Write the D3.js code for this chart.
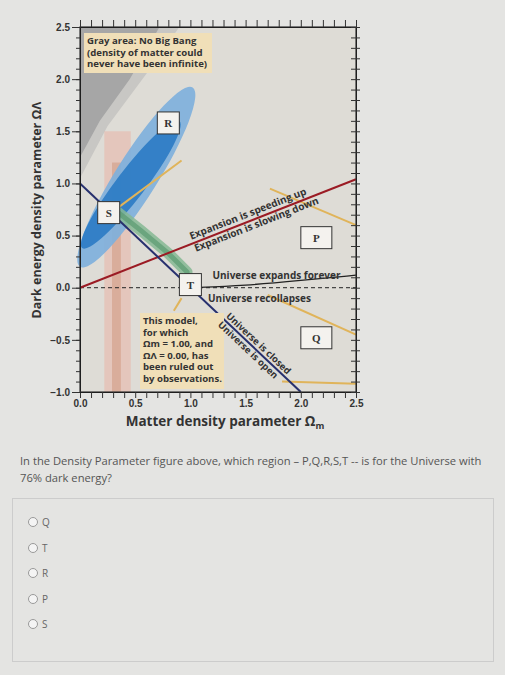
<!DOCTYPE html>
<html><head><meta charset="UTF-8">
<script src="https://d3js.org/d3.v7.min.js"></script>
<style>
body{margin:0;background:#e4e4e2;font-family:"Open Sans",sans-serif;width:505px;height:675px;overflow:hidden}
#q{position:absolute;left:20px;top:452px;width:480px;font-size:11.2px;color:#555;line-height:17px}
#box{position:absolute;left:12px;top:498px;width:480px;height:162px;border:1px solid #ccc}
.opt{position:absolute;left:28px;font-size:10px;color:#666}
.opt span{display:inline-block;width:8px;height:8px;border:1px solid #999;border-radius:50%;margin-right:4px;vertical-align:-1px;background:#f4f4f4}
</style></head><body>
<svg id="c" width="505" height="450" style="position:absolute;left:0;top:0"></svg>
<div id="q">In the Density Parameter figure above, which region – P,Q,R,S,T -- is for the Universe with 76% dark energy?</div>
<div id="box"></div>
<script>
const xTicks=[0,0.5,1,1.5,2,2.5];
const yTicks=[-1,-0.5,0,0.5,1,1.5,2,2.5];
const regions=[{k:"R",x:0.8,y:1.58},{k:"S",x:0.26,y:0.72},{k:"T",x:1.0,y:0.03},{k:"P",x:2.1,y:0.48},{k:"Q",x:2.1,y:-0.48}];
const options=["Q","T","R","P","S"];
const grayLight=[[0,2.5],[0.9,2.5],[0.6,2.05],[0.25,1.55],[0,1.05]];
const grayArea=[[0,2.5],[0.72,2.5],[0.45,2.0],[0.18,1.6],[0,1.25]];
const blueOuter={a:[0.0,0.2],b:[1.02,1.92],w:0.19};
const blueInner={a:[0.02,0.38],b:[0.9,1.6],w:0.13};
const greenBand=[[0.3,0.76],[0.55,0.55],[0.8,0.33],[0.97,0.15]];
const redLine=[[0,0],[2.5,1.04]];
const blueLine=[[0,1],[2,-1]];
const foreverCurve=[[1.0,0.0],[1.5,0.02],[2.0,0.07],[2.5,0.12]];
const pointers=[[[0.36,0.78],[0.92,1.22]],[[1.72,0.95],[2.5,0.6]],[[1.7,-0.07],[2.5,-0.45]],[[1.83,-0.9],[2.5,-0.92]],[[0.92,-0.1],[0.85,-0.22]]];

const svg=d3.select("#c");
const x=d3.scaleLinear().domain([0,2.5]).range([80,356]);
const y=d3.scaleLinear().domain([-1,2.5]).range([392,27]);
const line=d3.line().x(d=>x(d[0])).y(d=>y(d[1]));
const curve=d3.line().x(d=>x(d[0])).y(d=>y(d[1])).curve(d3.curveBasis);

svg.append("rect").attr("x",80).attr("y",27).attr("width",276).attr("height",365).attr("fill","#dedcd6");
svg.append("path").attr("d",line(grayLight)+"Z").attr("fill","#c8c7c4");
svg.append("path").attr("d",line(grayArea)+"Z").attr("fill","#a6a6a6");
svg.append("rect").attr("x",x(0.22)).attr("y",y(1.5)).attr("width",x(0.46)-x(0.22)).attr("height",y(-1)-y(1.5)).attr("fill","#eda596").attr("opacity",0.4);
svg.append("rect").attr("x",x(0.29)).attr("y",y(1.2)).attr("width",x(0.37)-x(0.29)).attr("height",y(-1)-y(1.2)).attr("fill","#c9886a").attr("opacity",0.4);
function ell(e,fill){
  const ax=x(e.a[0]),ay=y(e.a[1]),bx=x(e.b[0]),by=y(e.b[1]);
  const rx=Math.hypot(bx-ax,by-ay)/2,ang=Math.atan2(by-ay,bx-ax)*180/Math.PI;
  svg.append("ellipse").attr("cx",(ax+bx)/2).attr("cy",(ay+by)/2).attr("rx",rx).attr("ry",x(e.w)-x(0))
    .attr("transform",`rotate(${ang},${(ax+bx)/2},${(ay+by)/2})`).attr("fill",fill).attr("opacity",0.92);
}
ell(blueOuter,"#7fb0dc");ell(blueInner,"#2c7cc4");
svg.append("path").attr("d",line(greenBand)).attr("stroke","#86b894").attr("stroke-width",11).attr("stroke-linecap","round").attr("fill","none").attr("opacity",0.85);
svg.append("path").attr("d",line(greenBand)).attr("stroke","#5a9a70").attr("stroke-width",5).attr("stroke-linecap","round").attr("fill","none").attr("opacity",0.7);
pointers.forEach(p=>svg.append("path").attr("d",line(p)).attr("stroke","#e0b45a").attr("stroke-width",2).attr("fill","none"));
svg.append("path").attr("d",line([[0,0],[2.5,0]])).attr("stroke","#222").attr("stroke-dasharray","4,3").attr("fill","none");
svg.append("path").attr("stroke","#222").attr("stroke-width",1.3).attr("fill","none").attr("d",curve(foreverCurve));
svg.append("path").attr("d",line(redLine)).attr("stroke","#9b1b24").attr("stroke-width",2).attr("fill","none");
svg.append("path").attr("d",line(blueLine)).attr("stroke","#27306e").attr("stroke-width",2).attr("fill","none");

const minor=d3.range(0,2.501,0.1), minorY=d3.range(-1,2.501,0.1);
svg.append("g").attr("transform","translate(0,392)").call(d3.axisBottom(x).tickValues(minor).tickSize(6).tickFormat(""));
svg.append("g").attr("transform","translate(0,27)").call(d3.axisTop(x).tickValues(minor).tickSize(7).tickFormat(""));
svg.append("g").attr("transform","translate(80,0)").call(d3.axisLeft(y).tickValues(minorY).tickSize(4).tickFormat(""));
svg.append("g").attr("transform","translate(356,0)").call(d3.axisLeft(y).tickValues(minorY).tickSize(5).tickFormat(""));
svg.append("g").attr("transform","translate(356,0)").call(d3.axisRight(y).tickValues(minorY).tickSize(4).tickFormat(""));
svg.append("g").attr("transform","translate(0,392)").call(d3.axisBottom(x).tickValues(xTicks).tickSize(0).tickPadding(8).tickFormat(d3.format(".1f")))
  .call(g=>g.select(".domain").remove()).selectAll("text").attr("font-size",10).attr("font-weight",600).attr("fill","#333");
svg.append("g").attr("transform","translate(80,0)").call(d3.axisLeft(y).tickValues(yTicks).tickSize(8).tickPadding(2).tickFormat(d3.format(".1f")))
  .call(g=>g.select(".domain").remove()).selectAll("text").attr("font-size",10).attr("font-weight",600).attr("fill","#333");
svg.selectAll(".tick line").attr("stroke","#333");
svg.append("rect").attr("x",80).attr("y",27).attr("width",276).attr("height",365).attr("fill","none").attr("stroke","#333").attr("stroke-width",1.2);

svg.append("text").attr("x",225).attr("y",426).attr("text-anchor","middle").attr("font-size",13.5).attr("font-weight",700).attr("fill","#333")
  .html("Matter density parameter Ω<tspan font-size='9' dy='3'>m</tspan>");
svg.append("text").attr("transform","translate(41,210) rotate(-90)").attr("text-anchor","middle").attr("font-size",12.5).attr("font-weight",700).attr("fill","#333").text("Dark energy density parameter Ω\u039B");

function note(x0,y0,w,h,lines){
  svg.append("rect").attr("x",x0).attr("y",y0).attr("width",w).attr("height",h).attr("fill","#f0dfb8");
  lines.forEach((t,i)=>svg.append("text").attr("x",x0+3).attr("y",y0+11+i*11.5).attr("font-size",9.6).attr("font-weight",700).attr("fill","#333").text(t));
}
note(84,33,128,40,["Gray area: No Big Bang","(density of matter could","never have been infinite)"]);
note(140,313,84,76,["This model,","for which","Ωm = 1.00, and","ΩΛ = 0.00, has","been ruled out","by observations."]);

const ang=Math.atan2(y(redLine[1][1])-y(0),x(2.5)-x(0))*180/Math.PI;
[["Expansion is speeding up",-4],["Expansion is slowing down",9]].forEach(([t,o])=>
  svg.append("text").attr("transform",`translate(${x(1.02)},${y(0.425)}) rotate(${ang})`).attr("dy",o).attr("font-size",10).attr("font-weight",700).attr("fill","#333").text(t));
svg.append("text").attr("x",x(1.2)).attr("y",y(0.05)-4).attr("font-size",10).attr("font-weight",700).attr("fill","#333").text("Universe expands forever");
svg.append("text").attr("x",x(1.16)).attr("y",y(0)+14).attr("font-size",10).attr("font-weight",700).attr("fill","#333").text("Universe recollapses");
const ang2=Math.atan2(y(-1)-y(1),x(2)-x(0))*180/Math.PI;
[["Universe is closed",-3],["Universe is open",9]].forEach(([t,o])=>
  svg.append("text").attr("transform",`translate(${x(1.3)},${y(-0.3)}) rotate(${ang2})`).attr("dy",o).attr("font-size",9.5).attr("font-weight",700).attr("fill","#333").text(t));

regions.forEach(r=>{
  const wide=r.k==="Q"||r.k==="P";
  svg.append("rect").attr("x",x(r.x)-11).attr("y",y(r.y)-11).attr("width",wide?31:22).attr("height",22).attr("fill","#f4f2ee").attr("stroke","#333");
  svg.append("text").attr("x",x(r.x)+(wide?4.5:0)).attr("y",y(r.y)+4).attr("text-anchor","middle").attr("font-family","Liberation Serif").attr("font-size",11).attr("font-weight",700).attr("fill","#333").text(r.k);
});

options.forEach((o,i)=>d3.select("body").append("div").attr("class","opt").style("top",(515+i*25.5)+"px").html(`<span></span>${o}`));
</script></body></html>
